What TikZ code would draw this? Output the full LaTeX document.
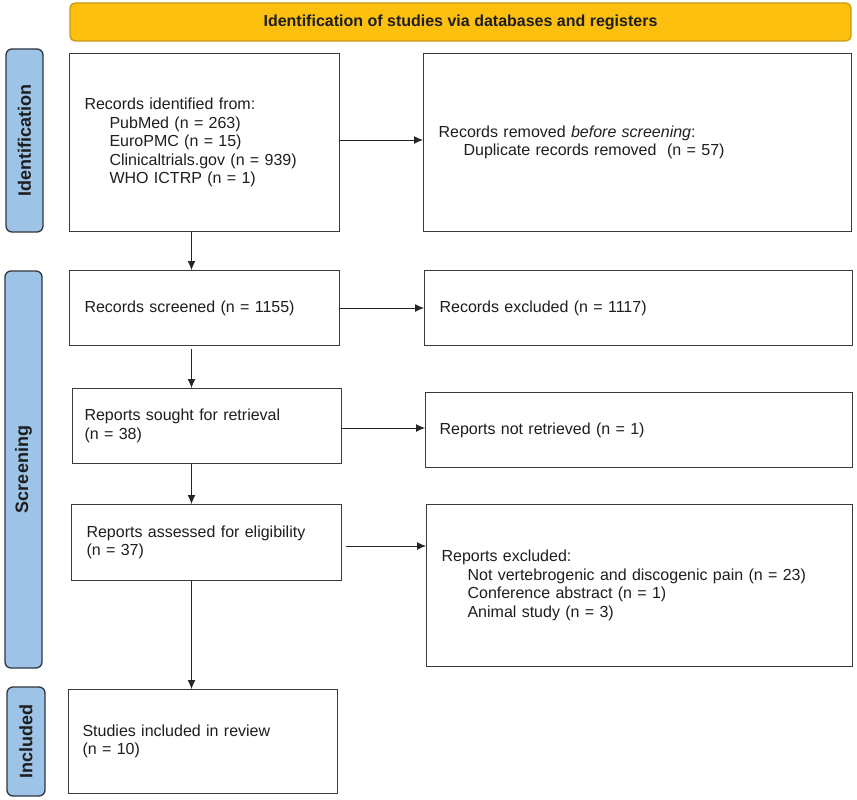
\documentclass[tikz,border=0pt]{standalone}
\usepackage{fontspec}
\setmainfont{Liberation Sans}
\usetikzlibrary{arrows.meta}
\definecolor{bannerfill}{HTML}{FDC00E}
\definecolor{bannerdraw}{HTML}{C79B12}
\definecolor{sidefill}{HTML}{9DC3E6}
\definecolor{sidedraw}{HTML}{2F3640}
\definecolor{boxdraw}{HTML}{3A3A3A}
\definecolor{txt}{HTML}{1E1E1E}
\tikzset{
  banner/.style={draw=bannerdraw, fill=bannerfill, line width=1.3pt, rounded corners=5pt,
    font=\fontsize{16}{18}\selectfont\bfseries, text=txt, inner sep=0pt},
  side/.style={draw=sidedraw, fill=sidefill, line width=1.3pt, rounded corners=6pt, inner sep=0pt},
  sidetext/.style={rotate=90, font=\fontsize{18}{20}\selectfont\bfseries, text=txt, inner sep=0pt},
  box/.style={draw=boxdraw, line width=1.1pt, fill=white, text=txt, align=left,
    font=\fontsize{16}{18.6}\selectfont, inner ysep=0pt, anchor=north west},
  arr/.style={draw=black!85, line width=0.9pt, -{Latex[length=9pt,width=8pt]}}
}
\begin{document}
\begin{tikzpicture}[x=1pt,y=-1pt]
\useasboundingbox (0,0) rectangle (857,800);
\fill[white] (0,0) rectangle (857,800);
% banner
\node[banner, minimum width=781pt, minimum height=38pt] (ban) at (460.5,22) {Identification of studies via databases and registers};
% side labels
\node[side, minimum width=37pt, minimum height=183pt] (sid1) at (24.5,140.5) {};
\node[sidetext] (sid1t) at (sid1.center) {Identification};
\node[side, minimum width=37pt, minimum height=397pt] (sid2) at (23.5,469.5) {};
\node[sidetext] (sid2t) at (sid2.center) {Screening};
\node[side, minimum width=38pt, minimum height=109pt] (sid3) at (26,741.5) {};
\node[sidetext] (sid3t) at (sid3.center) {Included};
% boxes
\node[box, inner xsep=15pt, text width=240pt, minimum height=178pt] (A) at (69,53)
  {Records identified from:\\
   \hspace*{25pt}PubMed (n = 263)\\
   \hspace*{25pt}EuroPMC (n = 15)\\
   \hspace*{25pt}Clinicaltrials.gov (n = 939)\\
   \hspace*{25pt}WHO ICTRP (n = 1)};
\node[box, inner xsep=15pt, text width=398pt, minimum height=178pt] (B) at (423,53)
  {Records removed \textit{before screening}:\\
   \hspace*{25pt}Duplicate records removed\ \ (n = 57)};
\node[box, inner xsep=15pt, text width=240pt, minimum height=75pt] (C) at (69,270)
  {Records screened (n = 1155)};
\node[box, inner xsep=15pt, text width=398pt, minimum height=75pt] (D) at (424,270)
  {Records excluded (n = 1117)};
\node[box, inner xsep=12pt, text width=245pt, minimum height=75pt] (E) at (72,388)
  {Reports sought for retrieval\\(n = 38)};
\node[box, inner xsep=14pt, text width=399pt, minimum height=75pt] (F) at (425,392)
  {Reports not retrieved (n = 1)};
\node[box, inner xsep=15pt, text width=240pt, minimum height=76pt] (G) at (71,504)
  {Reports assessed for eligibility\\(n = 37)};
\node[box, inner xsep=15pt, text width=396pt, minimum height=162pt] (H) at (426,504)
  {Reports excluded:\\
   \hspace*{26pt}Not vertebrogenic and discogenic pain (n = 23)\\
   \hspace*{26pt}Conference abstract (n = 1)\\
   \hspace*{26pt}Animal study (n = 3)};
\node[box, inner xsep=14pt, text width=241pt, minimum height=104pt] (I) at (68,689)
  {Studies included in review\\(n = 10)};
% column for vertical arrows
\coordinate (col) at (191.5,0);
\draw[arr] (A.south -| col) -- (C.north -| col);
\draw[arr, shorten <=3pt] (C.south -| col) -- (E.north -| col);
\draw[arr] (E.south -| col) -- (G.north -| col);
\draw[arr] (G.south -| col) -- (I.north -| col);
% horizontal arrows
\coordinate (y1) at (0,140);
\coordinate (y2) at (0,308);
\coordinate (y3) at (0,428);
\coordinate (y4) at (0,546);
\draw[arr] (A.east |- y1) -- (B.west |- y1);
\draw[arr] (C.east |- y2) -- (D.west |- y2);
\draw[arr] (E.east |- y3) -- (F.west |- y3);
\draw[arr, shorten <=4pt] (G.east |- y4) -- (H.west |- y4);
\end{tikzpicture}
\end{document}
